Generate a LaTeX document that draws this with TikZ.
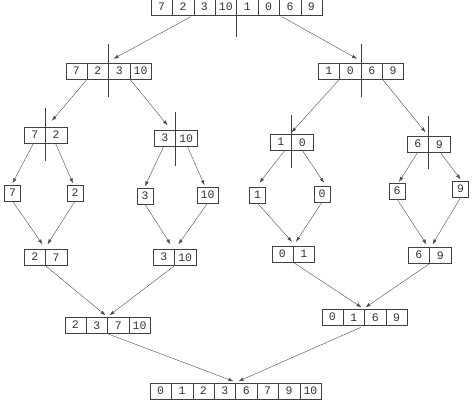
\documentclass[tikz,border=0pt]{standalone}
\usepackage{fontspec}
\newfontfamily\digitfont{Liberation Mono}
\usetikzlibrary{shapes.multipart,arrows.meta}

\begin{document}
\begin{tikzpicture}[x=1pt,y=-1pt,
    slots/.style={rectangle split, rectangle split horizontal, draw=black!75,
      text width=21pt, align=center, inner xsep=0pt, inner ysep=3pt,
      text height=8pt, text depth=2pt, text=black!80,
      font={\fontsize{11.5pt}{13pt}\selectfont\digitfont}},
    single/.style={draw=black!75, minimum width=16pt, minimum height=16pt,
      inner xsep=3.5pt, inner ysep=3pt, text height=8pt, text depth=2pt,
      text=black!80, font={\fontsize{11.5pt}{13pt}\selectfont\digitfont}},
    cut/.style={draw=black!75},
    link/.style={draw=black!70, -{Latex[length=5pt,width=3.5pt]}}]
    \useasboundingbox (0,0) rectangle (474,402);

    % Splitting
    \node[slots, rectangle split parts=8] (full) at (236.5,7)
      {7\nodepart{two}2\nodepart{three}3\nodepart{four}10\nodepart{five}1\nodepart{six}0\nodepart{seven}6\nodepart{eight}9};
    \node[slots, rectangle split parts=4] (half1) at (108.5,71)
      {7\nodepart{two}2\nodepart{three}3\nodepart{four}10};
    \node[slots, rectangle split parts=4] (half2) at (361,71)
      {1\nodepart{two}0\nodepart{three}6\nodepart{four}9};
    \node[slots, rectangle split parts=2] (q1) at (45.5,135) {7\nodepart{two}2};
    \node[slots, rectangle split parts=2] (q2) at (175.5,138.5) {3\nodepart{two}10};
    \node[slots, rectangle split parts=2] (q3) at (291.5,142.5) {1\nodepart{two}0};
    \node[slots, rectangle split parts=2] (q4) at (428.5,144.5) {6\nodepart{two}9};

    % Cut lines
    \draw[cut] ([yshift=12pt]full.four split north) -- ([yshift=-22pt]full.four split south);
    \draw[cut] ([yshift=19pt]half1.two split north) -- ([yshift=-18pt]half1.two split south);
    \draw[cut] ([yshift=19pt]half2.two split north) -- ([yshift=-18pt]half2.two split south);
    \draw[cut] ([yshift=19pt]q1.one split north) -- ([yshift=-18pt]q1.one split south);
    \draw[cut] ([yshift=18pt]q2.one split north) -- ([yshift=-19pt]q2.one split south);
    \draw[cut] ([yshift=19pt]q3.one split north) -- ([yshift=-17pt]q3.one split south);
    \draw[cut] ([yshift=20pt]q4.one split north) -- ([yshift=-16pt]q4.one split south);

    % Single elements
    \node[single] (leaf7) at (12.5,193) {7};
    \node[single] (leaf2) at (75,193) {2};
    \node[single] (leaf3) at (145,196) {3};
    \node[single] (leaf10) at (207.5,195) {10};
    \node[single] (leaf1) at (257.5,195) {1};
    \node[single] (leaf0) at (322,194) {0};
    \node[single] (leaf6) at (397,191) {6};
    \node[single] (leaf9) at (460.5,189.5) {9};

    % Merging
    \node[slots, rectangle split parts=2] (pair27) at (45.5,257.5) {2\nodepart{two}7};
    \node[slots, rectangle split parts=2] (pair310) at (174.5,257.5) {3\nodepart{two}10};
    \node[slots, rectangle split parts=2] (pair01) at (293,254) {0\nodepart{two}1};
    \node[slots, rectangle split parts=2] (pair69) at (429.5,255.5) {6\nodepart{two}9};
    \node[slots, rectangle split parts=4] (sortL) at (107.5,325.5)
      {2\nodepart{two}3\nodepart{three}7\nodepart{four}10};
    \node[slots, rectangle split parts=4] (sortR) at (364.5,317.5)
      {0\nodepart{two}1\nodepart{three}6\nodepart{four}9};
    \node[slots, rectangle split parts=8] (sorted) at (235.5,391)
      {0\nodepart{two}1\nodepart{three}2\nodepart{four}3\nodepart{five}6\nodepart{six}7\nodepart{seven}9\nodepart{eight}10};

    % Arrows down the split
    \draw[link, shorten <=3pt] (full.two split south) -- ([xshift=5pt,yshift=4pt]half1.two split north);
    \draw[link, shorten <=3pt] (full.six split south) -- ([xshift=-4pt,yshift=4pt]half2.two split north);
    \draw[link] (half1.one split south) -- ([xshift=6.5pt,yshift=6pt]q1.one split north);
    \draw[link] (half1.three split south) -- ([xshift=-8pt,yshift=5pt]q2.one split north);
    \draw[link] (half2.one split south) -- ([yshift=2pt]q3.one split north);
    \draw[link] (half2.three split south) -- ([xshift=-3pt,yshift=4pt]q4.one split north);
    \draw[link] ([xshift=-12pt]q1.one split south) -- ([yshift=1.5pt]leaf7.north);
    \draw[link] ([xshift=10pt]q1.one split south) -- ([xshift=-2pt,yshift=1.5pt]leaf2.north);
    \draw[link] ([xshift=-12pt]q2.one split south) -- ([yshift=1.5pt]leaf3.north);
    \draw[link] ([xshift=12pt]q2.one split south) -- ([xshift=-3pt,yshift=1.5pt]leaf10.north);
    \draw[link] ([xshift=-7pt]q3.one split south) -- ([xshift=2pt,yshift=4pt]leaf1.north);
    \draw[link] ([xshift=11pt]q3.one split south) -- ([xshift=2pt,yshift=3pt]leaf0.north);
    \draw[link] ([xshift=-11pt]q4.one split south) -- ([xshift=2pt,yshift=1pt]leaf6.north);
    \draw[link] ([xshift=12pt]q4.one split south) -- ([yshift=2pt]leaf9.north);

    % Arrows up the merge
    \draw[link] (leaf7.south) -- ([xshift=-3pt,yshift=5pt]pair27.one split north);
    \draw[link] (leaf2.south) -- ([xshift=2pt,yshift=5pt]pair27.one split north);
    \draw[link] (leaf3.south) -- ([xshift=-4pt,yshift=5pt]pair310.one split north);
    \draw[link] (leaf10.south) -- ([xshift=4pt,yshift=5pt]pair310.one split north);
    \draw[link] (leaf1.south) -- ([xshift=-1pt,yshift=4pt]pair01.one split north);
    \draw[link] (leaf0.south) -- ([xshift=3pt,yshift=4pt]pair01.one split north);
    \draw[link] (leaf6.south) -- ([xshift=-3pt,yshift=3pt]pair69.one split north);
    \draw[link] (leaf9.south) -- ([xshift=3pt,yshift=3pt]pair69.one split north);
    \draw[link] (pair27.one split south) -- ([xshift=-2pt,yshift=2pt]sortL.two split north);
    \draw[link] (pair310.one split south) -- ([xshift=2pt,yshift=2pt]sortL.two split north);
    \draw[link] (pair01.one split south) -- ([xshift=-3pt,yshift=2pt]sortR.two split north);
    \draw[link] (pair69.one split south) -- ([xshift=1pt,yshift=2pt]sortR.two split north);
    \draw[link] (sortL.two split south) -- ([xshift=-2pt,yshift=1.5pt]sorted.four split north);
    \draw[link, shorten <=4pt] (sortR.two split south) -- ([xshift=3pt,yshift=1.5pt]sorted.four split north);
\end{tikzpicture}
\end{document}
